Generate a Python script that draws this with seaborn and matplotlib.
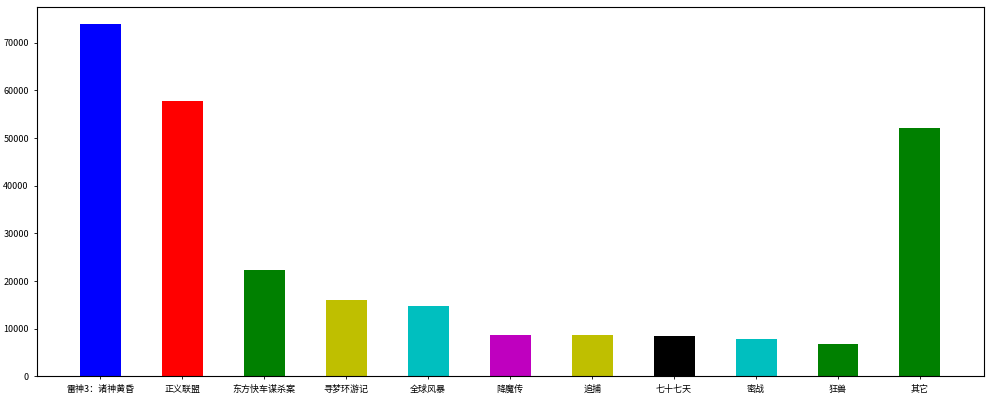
import matplotlib
matplotlib.use("Agg")
import matplotlib.pyplot as plt
import seaborn as sns
import pandas as pd

plt.rcParams['font.family'] = ['Noto Sans CJK SC', 'DejaVu Sans']
plt.rcParams['axes.unicode_minus'] = False

# box office by film
films = ["雷神3：诸神黄昏", "正义联盟", "东方快车谋杀案", "寻梦环游记", "全球风暴",
         "降魔传", "追捕", "七十七天", "密战", "狂兽", "其它"]
box_office = [73860, 57830, 22300, 15950, 14810, 8670, 8660, 8460, 7890, 6780, 52160]
bar_colors = ["b", "r", "g", "y", "c", "m", "y", "k", "c", "g", "g"]

df = pd.DataFrame({"film": films, "box_office": box_office})
palette = dict(zip(films, bar_colors))

fig, ax = plt.subplots(figsize=(10.05, 4.03), dpi=100)
sns.barplot(data=df, x="film", y="box_office", hue="film", palette=palette,
            width=0.5, saturation=1, legend=False, ax=ax)

ax.set_xlim(-0.77, len(films) - 1 + 0.78)
ax.set_ylim(0, max(box_office) * 1.05)
ax.set_xlabel("")
ax.set_ylabel("")
ax.tick_params(labelsize=6.5, length=2.5, width=0.6)
for s in ax.spines.values():
    s.set_linewidth(0.8)

plt.subplots_adjust(left=0.037, right=0.979, bottom=0.066, top=0.983)
plt.savefig("out.png", dpi=100)
